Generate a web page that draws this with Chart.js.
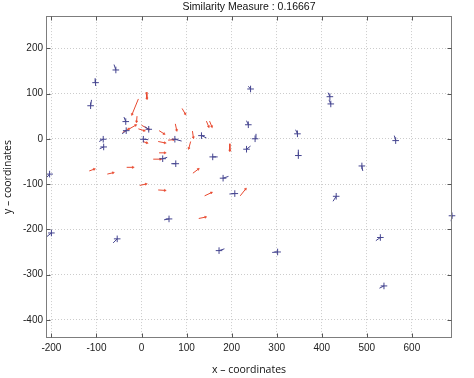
<!DOCTYPE html>
<html><head><meta charset="utf-8">
<script src="https://cdn.jsdelivr.net/npm/chart.js@4/dist/chart.umd.min.js"></script>
<style>html,body{margin:0;padding:0;background:#fff}#wrap{width:474px;height:378px}</style>
</head><body><div id="wrap"><canvas id="c" width="474" height="378"></canvas></div>
<script>
const titleText = 'Similarity Measure : 0.16667';
const xLabel = 'x \u2013 coordinates';
const yLabel = 'y \u2013 coordinates';
const xTicks = [-200,-100,0,100,200,300,400,500,600];
const yTicks = [200,100,0,-100,-200,-300,-400];

// blue markers (+) with short vectors
const blueX = [-57,-102,-113,-35,-34,16,-85,-84,4,74,133,158,47,76,181,-204,242,418,420,237,252,346,233,348,489,564,207,432,689,530,302,538,-200,-54,61,172];
const blueY = [152,124,73,38,18,21,-1,-18,-1,-1,7,-40,-44,-55,-87,-78,110,93,77,31,0,11,-23,-37,-60,-4,-121,-127,-170,-218,-250,-325,-208,-221,-177,-247];
const blueU = [-4,-1,2,-4,-9,-9,-9,-9,11,15,11,11,10,-10,12,-6,-5,-4,-4,-4,2,-4,9,0,2,-3,-12,-7,-2,-10,-12,-10,-10,-9,-11,12];
const blueV = [12,10,13,10,-7,6,-5,-4,-1,-4,-5,0,3,0,4,-7,6,9,9,9,11,9,7,13,-11,11,-1,-11,-12,-7,-1,-5,-8,-9,-2,4];

// red arrows (tail + vector)
const redX = [-7,10,90,-10,-42,-27,0,-7,39,75,144,151,113,109,196,3,37,39,26,114,-116,-76,-33,59,-4,37,140,219,127];
const redY = [88,103,67,50,14,22,30,22,18,33,39,39,17,-6,-11,-6,-6,-31,-45,-76,-71,-78,-63,-3,-103,-113,-126,-126,-176];
const redU = [-14,2,7,-1,14,14,16,13,11,3,5,5,2,-4,0,9,15,13,16,12,11,13,14,12,14,15,15,12,15];
const redV = [-34,-14,-12,-12,8,8,-9,-4,-7,-14,-12,-12,-14,-15,-15,-3,-3,0,0,9,4,3,0,1,3,-1,7,15,3];

const BLUE = '#454590';
const RED = '#e8492f';

const datasets = [];
blueX.forEach((x,i)=>{
  datasets.push({type:'scatter', showLine:true, data:[{x:x,y:blueY[i]},{x:x+blueU[i],y:blueY[i]+blueV[i]}],
    borderColor:BLUE, borderWidth:1, pointRadius:0, clip:false});
});
datasets.push({type:'scatter', data: blueX.map((x,i)=>({x:x,y:blueY[i]})), pointStyle:'cross',
  pointRadius:3.3, borderColor:BLUE, backgroundColor:BLUE, borderWidth:1, clip:false});
redX.forEach((x,i)=>{
  const ang = Math.atan2(redU[i], redV[i])*180/Math.PI;
  datasets.push({type:'scatter', showLine:true, data:[{x:x,y:redY[i]},{x:x+redU[i],y:redY[i]+redV[i]}],
    borderColor:RED, backgroundColor:RED, borderWidth:1, pointStyle:'triangle',
    pointRadius:[0,1.3], pointBorderWidth:0.5, rotation:[0,ang], clip:false});
});

const framePlugin = {
  id:'frame',
  afterDatasetsDraw(chart){
    const {ctx, chartArea:a, scales} = chart;
    ctx.save();
    ctx.strokeStyle = '#7d7d7d';
    ctx.lineWidth = 1;
    const L = Math.round(a.left)+0.5, R = Math.round(a.right)-0.5, T = Math.round(a.top)+0.5, B = Math.round(a.bottom)-0.5;
    ctx.strokeRect(L, T, R-L, B-T);
    ctx.strokeStyle = '#555';
    const tl = 4;
    ctx.beginPath();
    xTicks.forEach(v=>{
      const p = Math.round(scales.x.getPixelForValue(v))+0.5;
      ctx.moveTo(p,B); ctx.lineTo(p,B-tl);
      ctx.moveTo(p,T); ctx.lineTo(p,T+tl);
    });
    yTicks.forEach(v=>{
      const p = Math.round(scales.y.getPixelForValue(v))+0.5;
      ctx.moveTo(L,p); ctx.lineTo(L+tl,p);
      ctx.moveTo(R,p); ctx.lineTo(R-tl,p);
    });
    ctx.stroke();
    ctx.restore();
  }
};

const tickFont = {family:'"Liberation Sans", Arial, Helvetica, sans-serif', size:10};
const labFont = {family:'"Open Sans", "DejaVu Sans", sans-serif', size:10.5};

new Chart(document.getElementById('c'), {
  type:'scatter',
  data:{datasets:datasets},
  options:{
    responsive:false, animation:false, devicePixelRatio:1,
    layout:{padding:{left:0,right:22,top:0,bottom:0}},
    plugins:{
      legend:{display:false}, tooltip:{enabled:false},
      title:{display:true, text:titleText, fullSize:false, color:'#111',
        font:{family:'"Liberation Sans", Arial, sans-serif', size:10.5, weight:'normal'}, padding:{top:1,bottom:2.5}}
    },
    scales:{
      x:{type:'linear', min:-212, max:689,
        afterBuildTicks:s=>{s.ticks = xTicks.map(v=>({value:v}));},
        afterFit:s=>{s.height = 40;},
        grid:{color:'#cccccc', drawTicks:false, lineWidth:1},
        border:{display:false, dash:[1,2]},
        ticks:{font:tickFont, color:'#222', padding:4, maxRotation:0, autoSkip:false},
        title:{display:true, text:xLabel, font:labFont, color:'#111', padding:{top:0,bottom:1.5}}
      },
      y:{type:'linear', min:-440, max:271,
        afterBuildTicks:s=>{s.ticks = yTicks.map(v=>({value:v}));},
        afterFit:s=>{s.width = 46;},
        grid:{color:'#cccccc', drawTicks:false, lineWidth:1},
        border:{display:false, dash:[1,2]},
        ticks:{font:tickFont, color:'#222', padding:3, autoSkip:false},
        title:{display:true, text:yLabel, font:labFont, color:'#111', padding:{top:1.5,bottom:0}}
      }
    }
  },
  plugins:[framePlugin]
});
</script></body></html>
